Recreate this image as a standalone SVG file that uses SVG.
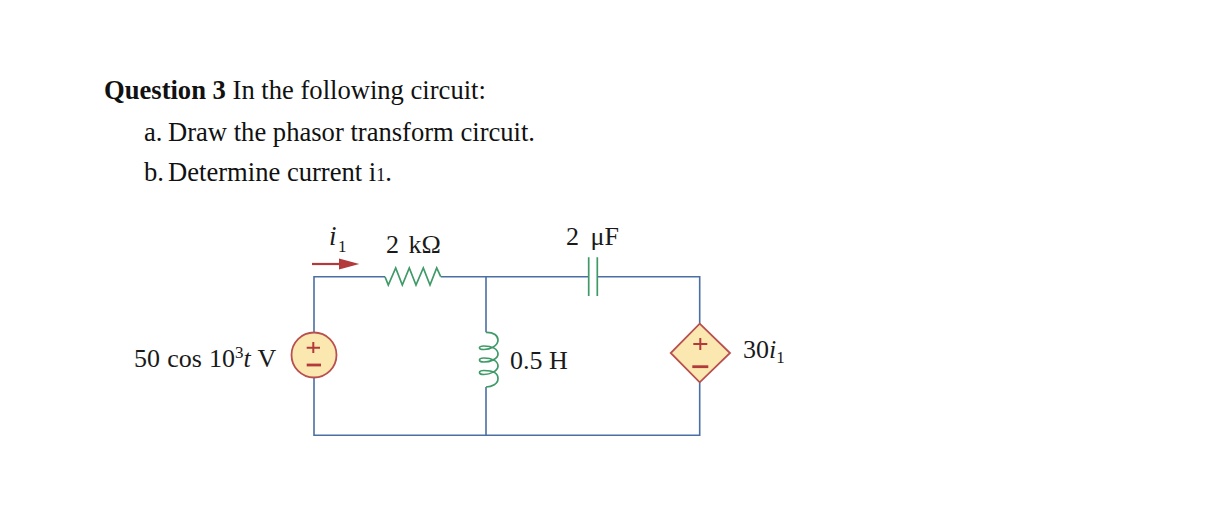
<svg xmlns="http://www.w3.org/2000/svg" width="1206" height="520" viewBox="0 0 1206 520">
<style>
text{font-family:"Liberation Serif","Times New Roman",serif;fill:#1a1a1a}
.q{font-size:26.600px;fill:#111}
.l{font-size:26px}
.s{font-size:17px}
.w{fill:none;stroke:#4a6fa5;stroke-width:1.6}
.g{fill:none;stroke:#3f9a68;stroke-width:1.7}
.r{fill:#fbe8b0;stroke:#b9504f;stroke-width:1.8}
.m{fill:none;stroke:#b23a3a;stroke-width:2}
.n{fill:none;stroke:#b23a3a;stroke-width:2.800}
</style>
<rect width="1206" height="520" fill="#fff"/>
<g id="question">
<text class="q" x="104" y="99"><tspan font-weight="bold">Question 3</tspan> In the following circuit:</text>
<text class="q" x="144" y="141">a.</text>
<text class="q" x="168" y="141">Draw the phasor transform circuit.</text>
<text class="q" x="144" y="181">b.</text>
<text class="q" x="168" y="181">Determine current i<tspan font-size="18">1</tspan>.</text>
</g>
<g id="connectors">
<path class="w" d="M314 333V276.700H385M440.700 276.700H588.700M597.300 276.700H699.700V324M699.700 382V435.300H314V378M486 276.700V332.300M486 387V435.300"/>
</g>
<g id="resistor">
<path class="g" d="M385 276.700L388.300 285L395.700 268L402.300 285L409.300 268L416 285L423.300 268L430 285L436.700 268L440.700 276.700"/>
<text class="l" x="386" y="253" word-spacing="3">2 kΩ</text>
</g>
<g id="capacitor">
<path class="g" d="M588.700 257.300V296M597.300 257.300V296"/>
<text class="l" x="566" y="245" word-spacing="5">2 μF</text>
</g>
<g id="inductor">
<path class="g" d="M486 332.300C494 332 498 336 498 340C498 346 490 349.500 484 349.500C478 349.500 478 346 484 346C492 346 498 349 498 354C498 359 490 362 484 362C478 362 478 358 484 358C492 358 498 361 498 366C498 371 490 374.500 484 374.500C478 374.500 478 370.500 484 370.500C492 370.500 498 373 498 378.500C498 384 492 387 486 387"/>
<text class="l" x="510" y="369">0.5 H</text>
</g>
<g id="source">
<circle class="r" cx="314" cy="355" r="22.500"/>
<path class="m" d="M306.700 347.700H320M313.300 342V353"/>
<path class="n" d="M306.700 365H321"/>
<text class="l" x="134" y="367" word-spacing="0.700">50 cos 10<tspan font-size="17" dy="-9">3</tspan><tspan font-style="italic" dy="9">t</tspan> V</text>
</g>
<g id="dependent-source">
<polygon class="r" points="699.700,323.700 730,353 699.700,382.300 670.700,353"/>
<path class="m" d="M693.300 344H707.300M700.300 338V350"/>
<path class="n" d="M692.300 366.700H708.300"/>
<text class="l" x="743" y="358">30<tspan font-style="italic">i</tspan><tspan class="s" dy="5">1</tspan></text>
</g>
<g id="current-arrow">
<path d="M312 264H339" fill="none" stroke="#b23a3a" stroke-width="2.200"/>
<polygon points="339,258.500 359.300,264 339,269.500" fill="#b23a3a"/>
<text x="329" y="245" font-size="27" font-style="italic">i</text>
<text class="s" x="338" y="252">1</text>
</g>
</svg>
